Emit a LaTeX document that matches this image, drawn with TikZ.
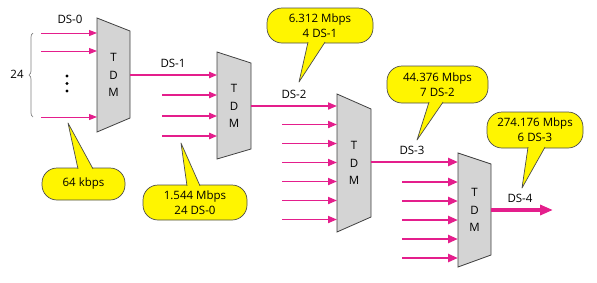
\documentclass[tikz,border=0pt]{standalone}
\usepackage{fontspec}
\setmainfont{Open Sans}
\usetikzlibrary{arrows.meta,calc,decorations.pathreplacing}
\definecolor{sigpink}{RGB}{228,30,140}
\definecolor{bubbleyellow}{RGB}{255,245,0}
\definecolor{muxgray}{RGB}{212,212,212}
\tikzset{
  ds0/.style={draw=sigpink,line width=1pt,-{Triangle[length=8pt,width=6pt]}},
  ds1/.style={draw=sigpink,line width=1.3pt,-{Triangle[length=8pt,width=6.5pt]}},
  ds2/.style={draw=sigpink,line width=1.8pt,-{Triangle[length=9pt,width=7pt]}},
  ds3/.style={draw=sigpink,line width=2.6pt,-{Triangle[length=10pt,width=8pt]}},
  ds4/.style={draw=sigpink,line width=3.4pt,-{Triangle[length=13pt,width=10pt]}},
  mux/.style={draw=black!75,fill=muxgray,line width=0.8pt},
  muxtext/.style={align=center,font=\fontsize{11.5}{17.5}\selectfont},
  bubble/.style={draw=black!70,fill=bubbleyellow,line width=0.7pt,rounded corners=15pt,
    align=center,inner sep=0pt,font=\fontsize{11.5}{15}\selectfont},
  tail/.style={draw=black!70,fill=bubbleyellow,line width=0.7pt,line join=round}
}
\begin{document}
\begin{tikzpicture}[x=1pt,y=-1pt,font=\fontsize{11.5}{14}\selectfont]
\useasboundingbox (0,0) rectangle (597,282);
\draw[mux] (97,18)--(130,31)--(130,118)--(97,132)--cycle;
\draw[mux] (217,52)--(251,63)--(251,149)--(217,159)--cycle;
\draw[mux] (337,94)--(371,109)--(371,217)--(337,232)--cycle;
\draw[mux] (458,153)--(491,164)--(491,255)--(458,267)--cycle;
\node[muxtext] (m1) at (113.5,75) {T\\D\\M};
\node[muxtext] (m2) at (234,106) {T\\D\\M};
\node[muxtext] (m3) at (354,163) {T\\D\\M};
\node[muxtext] (m4) at (474.5,210) {T\\D\\M};
\foreach \y [count=\i] in {33,51,117} {
  \coordinate (a\i) at (41,\y);
  \coordinate (b\i) at (97,\y);
  \draw[ds0] (a\i) -- (b\i);
}
\fill (67,76) circle (1.7) (67,83.5) circle (1.7) (67,91) circle (1.7);
\draw[gray,line width=0.7pt,decorate,decoration={brace,amplitude=4pt}] (33,117) -- (33,33);
\node (n24) at (17,74) {24};
\coordinate (o1) at (130,75);
\coordinate (i1) at (217,75);
\draw[ds1] (o1) -- (i1);
\foreach \y [count=\i] in {95,116,136} {
  \coordinate (c\i) at (162,\y);
  \coordinate (d\i) at (217,\y);
  \draw[ds1] (c\i) -- (d\i);
}
\coordinate (o2) at (251,106);
\coordinate (i2) at (337,106);
\draw[ds2] (o2) -- (i2);
\foreach \y [count=\i] in {124.5,143.5,162.5,181.5,200.5,219.5} {
  \coordinate (e\i) at (282,\y);
  \coordinate (f\i) at (337,\y);
  \draw[ds2] (e\i) -- (f\i);
}
\coordinate (o3) at (371,162);
\coordinate (i3) at (458,162);
\draw[ds3] (o3) -- (i3);
\foreach \y [count=\i] in {182,201,220,239,258} {
  \coordinate (g\i) at (402,\y);
  \coordinate (h\i) at (458,\y);
  \draw[ds3] (g\i) -- (h\i);
}
\coordinate (o4) at (491,210);
\coordinate (e4) at (553,210);
\draw[ds4] (o4) -- (e4);
\node (l0) at (70,19) {DS-0};
\node (l1) at (173,63) {DS-1};
\node (l2) at (294,94) {DS-2};
\node (l3) at (412,150) {DS-3};
\node (l4) at (520,198) {DS-4};
\node[bubble,minimum width=83pt,minimum height=32pt] (b0) at (83.5,184) {64 kbps};
\node[bubble,minimum width=104pt,minimum height=35pt] (b1) at (195,202.5) {1.544 Mbps\\24 DS-0};
\node[bubble,minimum width=106pt,minimum height=35pt] (b2) at (320,25.5) {6.312 Mbps\\4 DS-1};
\node[bubble,minimum width=101pt,minimum height=37pt] (b3) at (437.5,84.5) {44.376 Mbps\\7 DS-2};
\node[bubble,minimum width=96pt,minimum height=36pt] (b4) at (535,130) {274.176 Mbps\\6 DS-3};
\coordinate (t0) at (68,123);
\coordinate (t1) at (181,143);
\coordinate (t2) at (299,82);
\coordinate (t3) at (417,140);
\coordinate (t4) at (522,188);
\filldraw[tail] ($(b0.north)+(-5.5,1.2)$) -- (t0) -- ($(b0.north)+(9.5,1.2)$);
\filldraw[tail] ($(b1.north)+(-8,1.2)$) -- (t1) -- ($(b1.north)+(5,1.2)$);
\filldraw[tail] ($(b2.south)+(-12,-1.2)$) -- (t2) -- ($(b2.south)+(5,-1.2)$);
\filldraw[tail] ($(b3.south)+(-8.5,-1.2)$) -- (t3) -- ($(b3.south)+(5.5,-1.2)$);
\filldraw[tail] ($(b4.south)+(-7,-1.2)$) -- (t4) -- ($(b4.south)+(10,-1.2)$);
\end{tikzpicture}
\end{document}
